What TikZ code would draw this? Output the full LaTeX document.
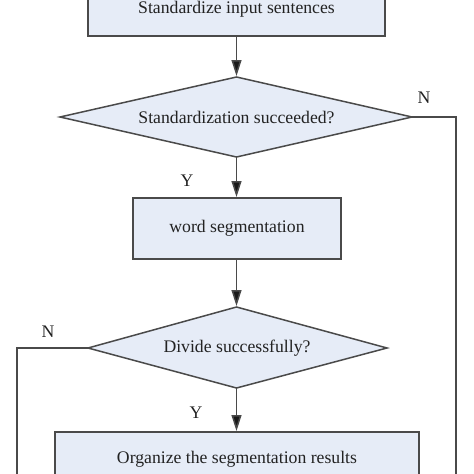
\documentclass[tikz,border=0pt]{standalone}
\usepackage{fontspec}
\setmainfont{Liberation Serif}
\usetikzlibrary{shapes.geometric,arrows.meta}
\definecolor{boxfill}{HTML}{E6ECF7}
\definecolor{linec}{HTML}{4A4A4A}
\definecolor{textc}{HTML}{222222}
\begin{document}
\begin{tikzpicture}[x=1pt,y=-1pt,
  stepbox/.style={draw=linec,fill=boxfill,line width=1.5pt,inner sep=0pt},
  decide/.style={draw=linec,fill=boxfill,line width=1.5pt,line join=miter},
  txt/.style={text=textc,font=\fontsize{17.7}{20}\selectfont},
  flow/.style={draw=linec,line width=1.5pt,-{Triangle[length=16pt,width=10pt,fill=black!90]}},
  plain/.style={draw=linec,line width=1.5pt}]
\useasboundingbox (0,0) rectangle (474,474);
% box 1
\path[stepbox] (88,-30) rectangle (385,36);
\node[txt] (b1) at (236.5,9) {Standardize input sentences};
\coordinate (b1s) at (236.5,36);
% diamond 1
\path[decide] (236.5,77) -- (412,117) -- (236.5,157) -- (60,117) -- cycle;
\node[txt] (d1) at (236.5,117) {Standardization succeeded?};
\coordinate (d1n) at (236.5,76);
\coordinate (d1s) at (236.5,157);
\coordinate (d1e) at (412,117);
\coordinate (d1r) at (456,117);
\coordinate (d1b) at (456,476);
% box 2
\path[stepbox] (133,198) rectangle (341,259);
\node[txt] (b2) at (237,228) {word segmentation};
\coordinate (b2n) at (236.5,197);
\coordinate (b2s) at (236.5,259);
% diamond 2
\path[decide] (236.5,307) -- (387,348) -- (236.5,388) -- (88,348) -- cycle;
\node[txt] (d2) at (237,348) {Divide successfully?};
\coordinate (d2n) at (236.5,306);
\coordinate (d2s) at (236.5,388);
\coordinate (d2w) at (88,348);
\coordinate (d2l) at (17,348);
\coordinate (d2b) at (17,476);
% box 3
\path[stepbox] (55,432) rectangle (419,520);
\node[txt] (b3) at (237,459) {Organize the segmentation results};
\coordinate (b3n) at (236.5,431);
% connectors
\draw[flow] (b1s) -- (d1n);
\draw[flow] (d1s) -- (b2n);
\draw[flow] (b2s) -- (d2n);
\draw[flow] (d2s) -- (b3n);
\draw[plain] (d1e) -- (d1r) -- (d1b);
\draw[plain] (d2w) -- (d2l) -- (d2b);
% labels
\node[txt] (n1) at (424,98) {N};
\node[txt] (y1) at (187,181) {Y};
\node[txt] (n2) at (48,332) {N};
\node[txt] (y2) at (196,413) {Y};
\end{tikzpicture}
\end{document}
